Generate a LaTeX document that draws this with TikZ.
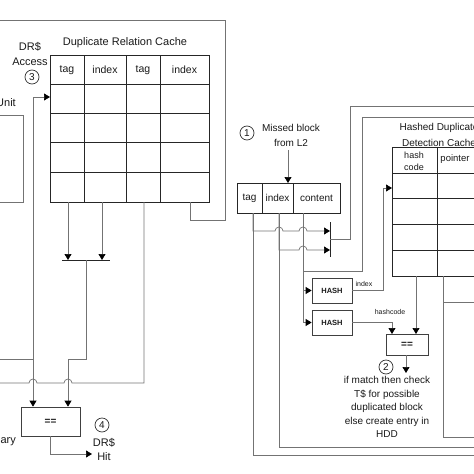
\documentclass[tikz,border=0pt]{standalone}
\usepackage{fontspec}
\setmainfont{Liberation Sans}
\usetikzlibrary{arrows.meta}

\begin{document}
\begin{tikzpicture}[x=1pt,y=1pt,
  wire/.style={draw=black!55, line width=0.7pt},
  arr/.style={wire, -{Triangle[length=6pt,width=7pt,color=black]}},
  tbl/.style={draw=black!85, line width=1pt},
  lbl/.style={text=black!90, font=\fontsize{11}{15}\selectfont, align=center, inner sep=0pt},
  hd/.style={text=black!90, font=\fontsize{10.5}{12}\selectfont, align=center, inner sep=0pt},
  small/.style={text=black!90, font=\fontsize{7}{8}\selectfont, inner sep=0pt},
  numc/.style={circle, draw=black!80, line width=0.7pt, inner sep=0pt, minimum size=14pt, text=black!90, font=\fontsize{10}{10}\selectfont},
  cell/.style={rectangle, tbl, inner sep=0pt, minimum height=30pt, text=black!90, font=\fontsize{10}{12}\selectfont},
  cmpbox/.style={rectangle, wire, draw=black!75, inner sep=0pt, text=black!90, font=\bfseries\fontsize{10}{12}\selectfont},
  hashbox/.style={rectangle, wire, draw=black!75, inner sep=0pt, minimum width=40pt, minimum height=25pt, text=black!90, font=\bfseries\fontsize{7.5}{9}\selectfont}
]
\useasboundingbox (0,0) rectangle (474,-474);

% left half: duplicate relation cache
\node[lbl] (drcl) at (125,-43) {Duplicate Relation Cache};
\node[lbl] (acc) at (30,-54) {DR\$\\Access};
\node[numc] (n3) at (32,-77) {3};
\node[lbl, anchor=east] (unit) at (16,-103) {Unit};
\draw[wire] (-5,-115) rectangle (23,-202);

\draw[tbl] (50,-55) rectangle (209,-202);
\foreach \x in {84,126,160} \draw[tbl] (\x,-55) -- (\x,-202);
\foreach \y in {84,113,142,172} \draw[tbl] (50,-\y) -- (209,-\y);
\node[hd] (tagA) at (67,-70) {tag};
\node[hd] (idxA) at (105,-70) {index};
\node[hd] (tagB) at (143,-70) {tag};
\node[hd] (idxB) at (184.5,-70) {index};
\coordinate (drcin) at (50,-97);
\coordinate (oA) at (68,-202);
\coordinate (oB) at (102,-202);
\coordinate (oC) at (144,-202);
\coordinate (oD) at (190,-202);

\draw[wire] (oD) -- (190,-220) -- (225,-220) -- (225,-20) -- (-5,-20);

\draw[tbl] (62,-260) -- (110,-260);
\draw[arr] (oA) -- (68,-260);
\draw[arr] (oB) -- (102,-260);

\node[cmpbox, minimum width=59pt, minimum height=29pt] (cmpL) at (50.5,-421.5) {==};
\coordinate (jL) at (33,-359);
\draw[wire] (-5,-359) -- (jL);
\draw[arr] (jL) |- (drcin);
\draw[arr] (jL) -- (cmpL.north -| jL);
\draw[arr] (86,-260) -- (86,-359) -- (68,-359) -- (cmpL.north -| oA);
\draw[wire] (oC) |- (72,-383) arc (0:180:4) -- (37,-383) arc (0:180:4) -- (-5,-383);

\node[numc] (n4) at (102,-425) {4};
\node[lbl, font=\fontsize{11}{14}\selectfont] (hit) at (104,-449) {DR\$\\Hit};
\draw[arr] (cmpL.south) |- (92,-454);
\node[lbl, anchor=east] (sary) at (16,-442) {sary};

% right half: missed block and hashed duplicate detection cache
\node[numc] (n1) at (247,-133) {1};
\node[lbl, font=\fontsize{10}{15}\selectfont] (miss) at (291,-135.5) {Missed block\\from L2};
\node[cell, minimum width=25pt] (btag) at (249.5,-198) {tag};
\node[cell, minimum width=31pt] (bidx) at (277.5,-198) {index};
\node[cell, minimum width=47pt] (bcnt) at (316.5,-198) {content};
\draw[arr] (288,-150) -- (288,-183);

\draw[tbl] (330,-222) -- (330,-257);
\draw[arr] (253,-213) |- (275,-231) arc (180:0:4) -- (299,-231) arc (180:0:4) -- (330,-231);
\draw[arr] (279,-213) |- (299,-250) arc (180:0:4) -- (330,-250);
\draw[wire] (330,-239) -| (350,-106) -- (480,-106);
\draw[wire] (303,-271) -| (362,-117) -- (480,-117);
\draw[wire] (253,-213) |- (480,-455);
\draw[wire] (279,-213) |- (480,-447);
\draw[wire] (303,-213) -- (303,-322);

\node[hashbox] (hash1) at (332,-290.5) {HASH};
\node[hashbox] (hash2) at (332,-322.5) {HASH};
\draw[arr] (303,-290.5) -- (hash1.west);
\draw[arr] (303,-322.5) -- (hash2.west);

\node[lbl, font=\fontsize{10}{16}\selectfont] (hddl) at (439,-135) {Hashed Duplicate\\Detection Cache};
\draw[tbl] (392,-147) rectangle (490,-276);
\draw[tbl] (437,-147) -- (437,-276);
\foreach \y in {173,198,224,250} \draw[tbl] (392,-\y) -- (490,-\y);
\node[hd, font=\fontsize{9}{12}\selectfont] (hcode) at (414,-161) {hash\\code};
\node[hd, font=\fontsize{9.5}{12}\selectfont] (pntr) at (455,-159) {pointer};
\coordinate (hddin) at (392,-188);

\node[cmpbox, minimum width=42pt, minimum height=21pt] (cmpR) at (407,-344.5) {==};
\draw[arr] (hash1.east) -| (383,-188) -- (hddin);
\node[small] (idxl) at (364,-284) {index};
\draw[arr] (hash2.east) -| (392,-334);
\node[small] (hcl) at (390,-312) {hashcode};
\draw[arr] (416,-276) -- (416,-334);
\draw[wire] (443,-276) |- (480,-437);
\draw[wire] (443,-302) -- (480,-302);

\draw[arr] (406,-355) -- (406,-373);
\node[numc] (n2) at (386,-367) {2};
\node[lbl, font=\fontsize{10}{13.5}\selectfont] (res) at (387,-407) {if match then check\\T\$ for possible\\duplicated block\\else create entry in\\HDD};
\end{tikzpicture}
\end{document}
